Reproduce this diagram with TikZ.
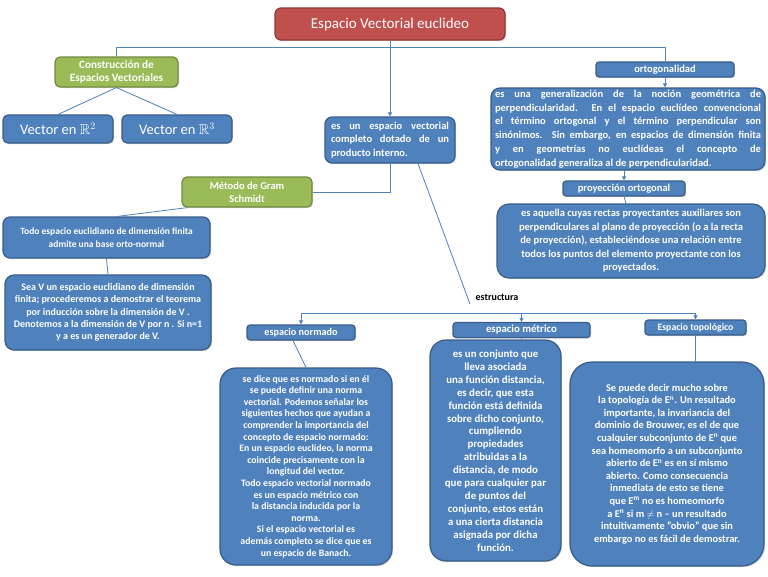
\documentclass[tikz,border=0pt]{standalone}
\usepackage{fontspec}
\setmainfont{Carlito}
\usepackage{amssymb}
\usetikzlibrary{arrows.meta,shadows}
\definecolor{bfill}{HTML}{4F81BD}
\definecolor{bdraw}{HTML}{385D8A}
\definecolor{gfill}{HTML}{9BBB59}
\definecolor{gdraw}{HTML}{71893F}
\definecolor{rfill}{HTML}{C0504D}
\definecolor{rdraw}{HTML}{8C3836}
\definecolor{lcol}{HTML}{4F81BD}
\newcommand{\fs}[2]{\fontsize{#1}{#2}\selectfont}
\begin{document}
\begin{tikzpicture}[x=1pt,y=-1pt,
  basebox/.style={line width=1.2pt, text=white, inner sep=1pt, align=center,
    drop shadow={shadow xshift=1.2pt, shadow yshift=-1.2pt, opacity=0.3}},
  bbox/.style={basebox, draw=bdraw, fill=bfill, rounded corners=5pt},
  tagbox/.style={basebox, draw=bdraw, fill=bfill, rounded corners=3pt},
  bigbox/.style={basebox, draw=bdraw, fill=bfill, rounded corners=16pt},
  gbox/.style={basebox, draw=gdraw, fill=gfill, rounded corners=5pt},
  rbox/.style={basebox, draw=rdraw, fill=rfill, rounded corners=6pt},
  conn/.style={draw=lcol, line width=0.8pt},
  arr/.style={conn, -{Triangle[length=4pt,width=4pt]}}]
\useasboundingbox (0,0) rectangle (768,576);
\fill[white] (0,0) rectangle (768,576);

% top
\node[rbox, minimum width=230pt, minimum height=32pt, font=\fs{15}{17}] (title) at (390,24) {Espacio Vectorial euclideo};
\node[gbox, minimum width=123pt, minimum height=30pt, font=\bfseries\fs{11.2}{13.5}] (constr) at (116.5,72) {Construcción de\\Espacios Vectoriales};
\node[bbox, minimum width=110pt, minimum height=28pt, font=\fs{14.5}{16}] (v2) at (58,129) {Vector en $\mathbb{R}^2$};
\node[bbox, minimum width=110pt, minimum height=28pt, font=\fs{14.5}{16}] (v3) at (177,129) {Vector en $\mathbb{R}^3$};
\node[bbox, rounded corners=7pt, minimum width=130pt, minimum height=46pt, text width=118pt, align=justify, font=\bfseries\fs{10.5}{13.5}] (esun) at (390,140) {es un espacio vectorial\linebreak completo dotado de un\linebreak producto interno.};

% left
\node[gbox, minimum width=130pt, minimum height=30pt, font=\bfseries\fs{10.5}{13}] (gram) at (247,192) {Método de Gram\\Schmidt};
\node[bbox, rounded corners=7pt, minimum width=207pt, minimum height=41pt, font=\bfseries\fs{9.5}{12.5}] (todo) at (106.5,237.5) {Todo espacio euclidiano de dimensión finita\\admite una base orto-normal};
\node[bbox, rounded corners=9pt, minimum width=206pt, minimum height=75pt, font=\bfseries\fs{10}{12.3}] (seav) at (108,312.5) {Sea V un espacio euclidiano de dimensión\\finita; procederemos a demostrar el teorema\\por inducción sobre la dimensión de V .\\Denotemos a la dimensión de V por n . Si n=1\\y a es un generador de V.};

% right
\node[tagbox, minimum width=138pt, minimum height=15pt, font=\bfseries\fs{10.5}{11}] (orto) at (665,69.5) {ortogonalidad};
\node[bbox, rounded corners=9pt, minimum width=274pt, minimum height=82pt, text width=266pt, align=justify, font=\bfseries\fs{10.5}{13.7}] (ortotext) at (628,129) {es una generalización de la noción geométrica de\linebreak perpendicularidad. En el espacio euclídeo convencional\linebreak el término ortogonal y el término perpendicular son\linebreak sinónimos. Sin embargo, en espacios de dimensión finita\linebreak y en geometrías no euclídeas el concepto de\linebreak ortogonalidad generaliza al de perpendicularidad.};
\node[tagbox, minimum width=122pt, minimum height=15pt, font=\bfseries\fs{10.5}{11}] (proy) at (624,188.5) {proyección ortogonal};
\node[bbox, rounded corners=12pt, minimum width=268pt, minimum height=74pt, font=\bfseries\fs{10.5}{13.5}] (proytext) at (631,241) {es aquella cuyas rectas proyectantes auxiliares son\\perpendiculares al plano de proyección (o a la recta\\de proyección), estableciéndose una relación entre\\todos los puntos del elemento proyectante con los\\proyectados.};

% estructura
\node[font=\bfseries\fs{10}{11}, inner sep=1pt] (estr) at (497,297) {estructura};
\coordinate (estrend) at (470,304);
\node[tagbox, minimum width=108pt, minimum height=15pt, font=\bfseries\fs{10.2}{11}] (normado) at (301,332.5) {espacio normado};
\node[tagbox, minimum width=137pt, minimum height=15pt, font=\bfseries\fs{10.8}{11}] (metrico) at (521.5,330) {espacio métrico};
\node[tagbox, minimum width=101pt, minimum height=15pt, font=\bfseries\fs{9.8}{11}] (topo) at (695.5,327.5) {Espacio topológico};

\node[bigbox, minimum width=172pt, minimum height=197pt, font=\bfseries\fs{9.8}{11.6}] (normtext) at (306,466.5) {se dice que es normado si en él\\se puede definir una norma\\vectorial. Podemos señalar los\\siguientes hechos que ayudan a\\comprender la importancia del\\concepto de espacio normado:\\En un espacio euclídeo, la norma\\coincide precisamente con la\\longitud del vector.\\Todo espacio vectorial normado\\es un espacio métrico con\\la distancia inducida por la\\norma.\\Si el espacio vectorial es\\además completo se dice que es\\un espacio de Banach.};
\node[bigbox, minimum width=131pt, minimum height=221pt, font=\bfseries\fs{10.8}{12.9}] (mettext) at (495.5,450.5) {es un conjunto que\\lleva asociada\\una función distancia,\\es decir, que esta\\función está definida\\sobre dicho conjunto,\\cumpliendo\\propiedades\\atribuidas a la\\distancia, de modo\\que para cualquier par\\de puntos del\\conjunto, estos están\\a una cierta distancia\\asignada por dicha\\función.};
\node[bigbox, rounded corners=22pt, minimum width=194pt, minimum height=204pt, font=\bfseries\fs{10.4}{12.6}] (topotext) at (667,464) {Se puede decir mucho sobre\\la topología de E\textsuperscript{n}. Un resultado\\importante, la invariancia del\\dominio de Brouwer, es el de que\\cualquier subconjunto de E\textsuperscript{n} que\\sea homeomorfo a un subconjunto\\abierto de E\textsuperscript{n} es en sí mismo\\abierto. Como consecuencia\\inmediata de esto se tiene\\que E\textsuperscript{m} no es homeomorfo\\a E\textsuperscript{n} si m $\neq$ n -- un resultado\\intuitivamente "obvio" que sin\\embargo no es fácil de demostrar.};

% connectors
\coordinate (busY) at (0,47);
\draw[conn] (title.south) -- (title.south |- busY);
\draw[conn] (constr.north) -- (constr.north |- busY) -- (orto.north |- busY) -- (orto.north);
\draw[arr] (title.south |- busY) -- (esun.north);
\draw[conn] (constr.south) -- (v2.north);
\draw[conn] (constr.south) -- (v3.north);
\draw[conn] (esun.south) |- (gram.east);
\draw[conn] ([xshift=6pt]gram.south west) -- ([xshift=11pt]todo.north);
\draw[conn] (todo.south) -- (seav.north);
\draw[arr] (orto.south) -- (orto.south |- ortotext.north);
\draw[arr] (proy.north |- ortotext.south) -- (proy.north);
\draw[conn] (proy.south) -- ([xshift=2pt]proy.south |- proytext.north);
\draw[conn] ([xshift=28pt]esun.south) -- (estrend);
\coordinate (busB) at (0,313);
\draw[conn] (normado.north |- busB) -- (topo.north |- busB);
\draw[arr] (normado.north |- busB) -- (normado.north);
\draw[arr] (metrico.north |- busB) -- (metrico.north);
\draw[arr] (topo.north |- busB) -- (topo.north);
\draw[conn] ([xshift=-8pt]normado.south) -- (normtext.north);
\draw[conn] (metrico.south) -- (metrico.south |- mettext.north);
\draw[conn] (topo.south) -- (topo.south |- topotext.north);
\end{tikzpicture}
\end{document}
